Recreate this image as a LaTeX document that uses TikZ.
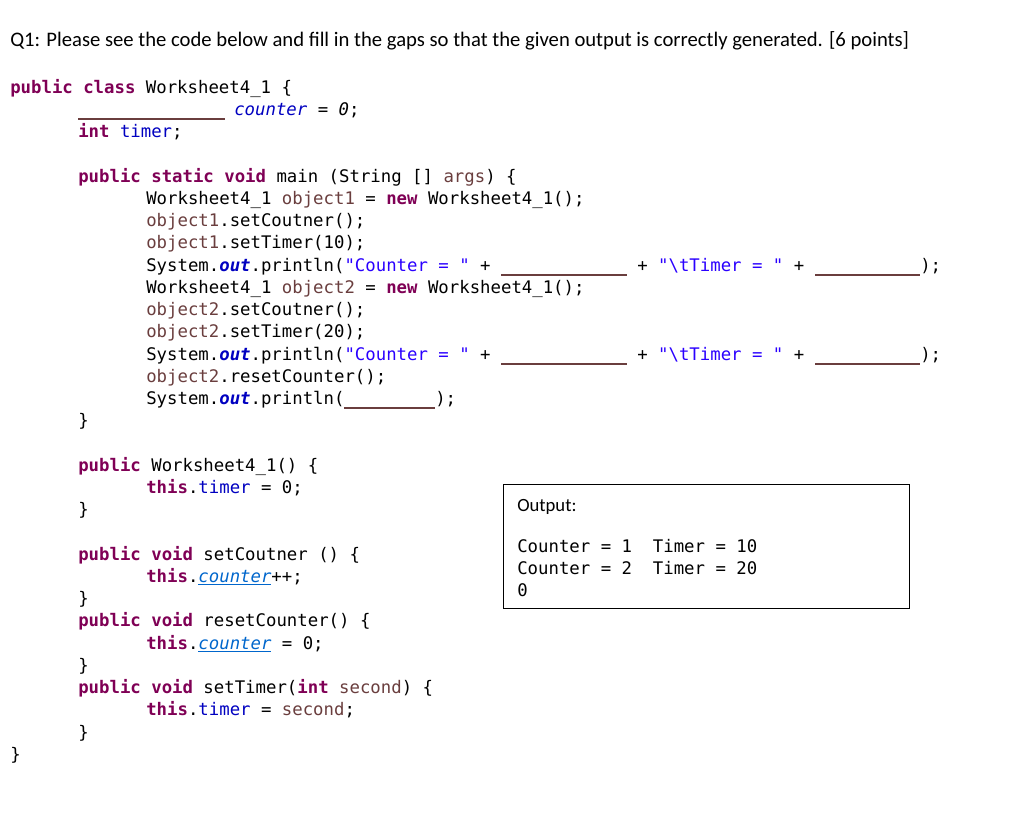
\documentclass[tikz,border=0pt]{standalone}
\usepackage{fontspec}
\setmainfont{Carlito}
\setmonofont{DejaVu Sans Mono}
\definecolor{kwcol}{HTML}{7F0055}
\definecolor{fldcol}{HTML}{0000C0}
\definecolor{strcol}{HTML}{2A00FF}
\definecolor{varcol}{HTML}{6A3E3E}
\definecolor{lnkcol}{HTML}{0066CC}
\newcommand{\kw}[1]{\textcolor{kwcol}{\bfseries #1}}
\newcommand{\fld}[1]{\textcolor{fldcol}{#1}}
\newcommand{\str}[1]{\textcolor{strcol}{#1}}
\newcommand{\lv}[1]{\textcolor{varcol}{#1}}
\tikzset{code/.style={anchor=base west,inner sep=0pt,font=\fontsize{13}{15}\selectfont\ttfamily}}
\tikzset{prose/.style={anchor=base west,inner sep=0pt,font=\fontsize{15.5}{18}\selectfont}}
\tikzset{blank/.style={draw=varcol,line width=0.9pt}}
\begin{document}
\begin{tikzpicture}[x=0.75pt,y=-0.75pt]
\useasboundingbox (0,0) rectangle (1024,815);
\node (title) [prose] at (10,46) {Q1: Please see the code below and fill in the gaps so that the given output is correctly generated. [6 points]};
% class header and fields
\node (cls) [code] at (10,93) {\kw{public} \kw{class} Worksheet4\_1 \{};
\draw[blank] (78,119) -- (225,119);
\node (cnt) [code] at (234,115) {\textit{\fld{counter}} = \textit{0};};
\node (tmr) [code] at (78,137) {\kw{int} \fld{timer};};
% main
\node (main) [code] at (78,182) {\kw{public} \kw{static} \kw{void} main (String [] \lv{args}) \{};
\node (m1) [code] at (146,204) {Worksheet4\_1 \lv{object1} = \kw{new} Worksheet4\_1();};
\node (m2) [code] at (146,226) {\lv{object1}.setCoutner();};
\node (m3) [code] at (146,248) {\lv{object1}.setTimer(10);};
\node (m4) [code] at (146,271) {System.\fld{\bfseries\itshape out}.println(\str{"Counter = "} +};
\draw[blank] (501,275) -- (627,275);
\node (m4b) [code] at (637,271) {+ \str{"\textbackslash tTimer = "} +};
\draw[blank] (815,275) -- (920,275);
\node (m4c) [code] at (920,271) {);};
\node (m5) [code] at (146,293) {Worksheet4\_1 \lv{object2} = \kw{new} Worksheet4\_1();};
\node (m6) [code] at (146,315) {\lv{object2}.setCoutner();};
\node (m7) [code] at (146,337) {\lv{object2}.setTimer(20);};
\node (m8) [code] at (146,360) {System.\fld{\bfseries\itshape out}.println(\str{"Counter = "} +};
\draw[blank] (501,364) -- (627,364);
\node (m8b) [code] at (637,360) {+ \str{"\textbackslash tTimer = "} +};
\draw[blank] (815,364) -- (920,364);
\node (m8c) [code] at (920,360) {);};
\node (m9) [code] at (146,382) {\lv{object2}.resetCounter();};
\node (m10) [code] at (146,404) {System.\fld{\bfseries\itshape out}.println(};
\draw[blank] (344,408) -- (435,408);
\node (m10c) [code] at (435,404) {);};
\node (mend) [code] at (78,426) {\}};
% constructor
\node (ctor) [code] at (78,471) {\kw{public} Worksheet4\_1() \{};
\node (c1) [code] at (146,493) {\kw{this}.\fld{timer} = 0;};
\node (cend) [code] at (78,515) {\}};
% methods
\node (sc) [code] at (78,560) {\kw{public} \kw{void} setCoutner () \{};
\node (sc1) [code] at (146,582) {\kw{this}.\textcolor{lnkcol}{\itshape\underline{counter}}++;};
\node (scend) [code] at (78,604) {\}};
\node (rc) [code] at (78,626) {\kw{public} \kw{void} resetCounter() \{};
\node (rc1) [code] at (146,649) {\kw{this}.\textcolor{lnkcol}{\itshape\underline{counter}} = 0;};
\node (rcend) [code] at (78,671) {\}};
\node (st) [code] at (78,693) {\kw{public} \kw{void} setTimer(\kw{int} \lv{second}) \{};
\node (st1) [code] at (146,715) {\kw{this}.\fld{timer} = \lv{second};};
\node (stend) [code] at (78,738) {\}};
\node (clsend) [code] at (10,760) {\}};
% output box
\node (outbox) [draw,line width=0.8pt,minimum width=304.5pt,minimum height=93pt,inner sep=0pt,anchor=north west] at (503,484) {};
\node (outlbl) [prose,font=\fontsize{14}{16}\selectfont] at (517,511) {Output:};
\node (o1) [code] at (517,552) {Counter = 1\ \ Timer = 10};
\node (o2) [code] at (517,574) {Counter = 2\ \ Timer = 20};
\node (o3) [code] at (517,596) {0};
\end{tikzpicture}
\end{document}
